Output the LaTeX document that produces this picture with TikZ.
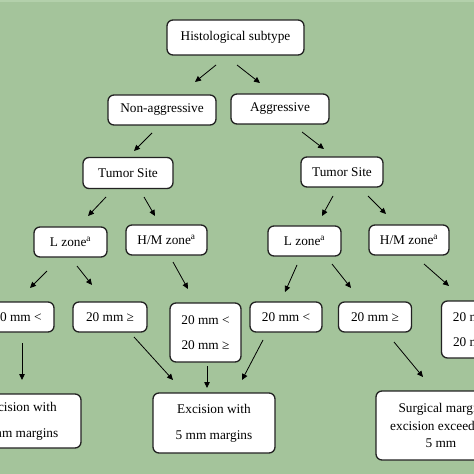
\documentclass[tikz,border=0pt]{standalone}
\usepackage{fontspec}
\setmainfont{Liberation Serif}
\usetikzlibrary{arrows.meta}
\definecolor{bggreen}{HTML}{A4C49B}
\definecolor{topstrip}{HTML}{B3D0AB}
\definecolor{boxline}{HTML}{222222}
\tikzset{
  box/.style={draw=boxline, line width=1.3bp, fill=white, rounded corners=6bp,
    inner sep=0pt, align=center, font=\fontsize{13.3bp}{16bp}\selectfont},
  arr/.style={-{Triangle[length=6bp,width=5.5bp]}, line width=0.8bp, black},
}
\begin{document}
\begin{tikzpicture}[x=1bp, y=-1bp]
\useasboundingbox (0,0) rectangle (474,474);
\clip (0,0) rectangle (474,474);
\fill[bggreen] (0,0) rectangle (474,474);
\fill[topstrip] (0,0) rectangle (474,2);
% row 1
\node[box, minimum width=137bp, minimum height=35bp] (hist) at (235.5,37.5) {Histological subtype};
% row 2
\node[box, minimum width=108bp, minimum height=30bp] (nonagg) at (162,110) {Non-aggressive};
\node[box, minimum width=98bp, minimum height=30bp] (agg) at (280,109) {Aggressive};
% row 3
\node[box, minimum width=90bp, minimum height=31bp] (ts1) at (128,173) {Tumor Site};
\node[box, minimum width=82bp, minimum height=30bp] (ts2) at (342,172) {Tumor Site};
% row 4
\node[box, minimum width=73bp, minimum height=30bp] (lz1) at (70.5,242) {L zone\textsuperscript{a}};
\node[box, minimum width=81bp, minimum height=30bp] (hm1) at (166.5,240) {H/M zone\textsuperscript{a}};
\node[box, minimum width=73bp, minimum height=30bp] (lz2) at (304.5,241) {L zone\textsuperscript{a}};
\node[box, minimum width=80bp, minimum height=30bp] (hm2) at (409,240) {H/M zone\textsuperscript{a}};
% row 5
\node[box, minimum width=73bp, minimum height=30bp] (r1) at (17.5,317) {20 mm <};
\node[box, minimum width=74bp, minimum height=30bp] (r2) at (110,317) {20 mm ≥};
\node[box, minimum width=71bp, minimum height=59bp, font=\fontsize{13.3bp}{25bp}\selectfont] (r3) at (205.5,332.5) {20 mm <\\20 mm ≥};
\node[box, minimum width=72bp, minimum height=30bp] (r4) at (286,317) {20 mm <};
\node[box, minimum width=73bp, minimum height=30bp] (r5) at (375,317) {20 mm ≥};
\node[box, minimum width=71bp, minimum height=57bp, font=\fontsize{13.3bp}{25bp}\selectfont] (r6) at (477,329.5) {20 mm <\\20 mm ≥};
% row 6
\node[box, minimum width=122bp, minimum height=54bp, font=\fontsize{13.3bp}{26bp}\selectfont] (b1) at (20,421) {Excision with\\5 mm margins};
\node[box, minimum width=122bp, minimum height=60bp, font=\fontsize{13.3bp}{26bp}\selectfont] (b2) at (214,423) {Excision with\\5 mm margins};
\node[box, minimum width=130bp, minimum height=69bp, font=\fontsize{13.3bp}{17.5bp}\selectfont] (b3) at (441,425.5) {Surgical margin\\excision exceeding\\5 mm};
% arrow end points
\foreach \n/\sx/\sy/\ex/\ey in {
  a1/216/65/195/82, a2/237/65/260/83, a3/152/133/134/151, a4/302/132/324/149,
  a5/106/197/88/216, a6/144/197/155/216, a7/333/196/322/216, a8/368/196/386/214,
  a9/47/271/30/288, a10/77/266/92/285, a11/173/262/188/289, a12/297/265/285/292,
  a13/332/264/351/288, a14/424/264/449/286, a15/22/343/22/380, a16/134/337/173/380,
  a17/207/366/207/388, a18/263/340/242/380, a19/394/342/423/377}{
  \coordinate (\n s) at (\sx,\sy);
  \coordinate (\n e) at (\ex,\ey);
  \draw[arr] (\n s) -- (\n e);
}
\end{tikzpicture}
\end{document}
